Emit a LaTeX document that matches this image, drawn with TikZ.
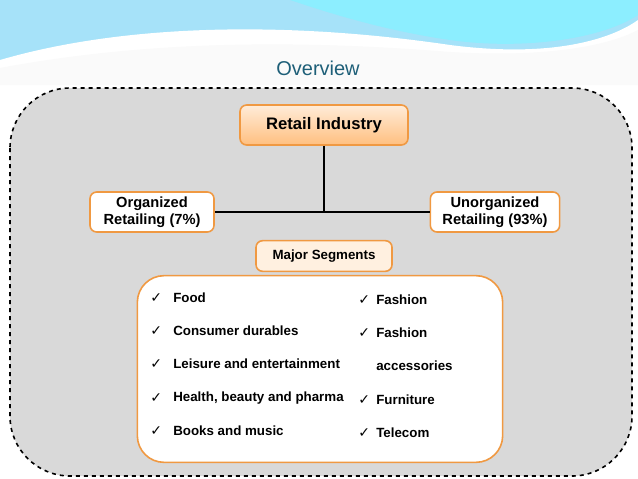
\documentclass[tikz,border=0pt]{standalone}
\usepackage{fontspec}
\setmainfont{Liberation Sans}
\newfontfamily\djv{DejaVu Sans}
\definecolor{teal1}{HTML}{1E5F78}
\begin{document}
\begin{tikzpicture}[x=0.75pt,y=-0.75pt,
  box/.style={draw=orange!70!brown!80, line width=1.2pt, rounded corners=5pt, align=center, font=\bfseries\fontsize{11}{13}\selectfont, inner sep=0pt},
  item/.style={anchor=west, font=\bfseries\fontsize{10}{12}\selectfont, inner sep=0pt},
  ck/.style={anchor=west, font=\djv\fontsize{10.5}{12}\selectfont, inner sep=0pt},
  conn/.style={line width=2.2pt}]
\useasboundingbox (0,0) rectangle (638,478);
\fill[white] (0,0) rectangle (638,478);
% header waves
\fill[cyan!35!white] (0,0) rectangle (638,85);
\fill[blue!15!cyan!45] (290,0) -- (638,0) -- (638,15) .. controls (600,40) and (520,50) .. (450,40) .. controls (380,30) and (320,10) .. (290,0) -- cycle;
\fill[white] (0,85) -- (0,60) .. controls (120,25) and (280,20) .. (450,45) .. controls (550,58) and (610,40) .. (638,20) -- (638,85) -- cycle;
\fill[gray!4] (0,85) -- (0,68) .. controls (150,40) and (300,40) .. (450,52) .. controls (550,58) and (610,45) .. (638,30) -- (638,85) -- cycle;
\node[font=\fontsize{15}{17}\selectfont, text=teal1] (title) at (318,68) {Overview};
% main area
\draw[dashed, line width=1.2pt, fill=gray!30, rounded corners=45pt] (10,88) rectangle (632,476);
\node[box, top color=orange!15, bottom color=orange!50, minimum width=126pt, minimum height=30pt, font=\bfseries\fontsize{12.5}{14}\selectfont] (ri) at (324,125) {Retail Industry};
\node[box, fill=white, minimum width=93pt, minimum height=30pt] (org) at (152,212) {Organized\\Retailing (7\%)};
\node[box, fill=white, minimum width=97pt, minimum height=30pt] (unorg) at (495,212) {Unorganized\\Retailing (93\%)};
\coordinate (j) at (ri.south |- org.east);
\draw[conn] (ri.south) -- (j);
\draw[conn] (org.east) -- (unorg.west);
\node[box, fill=orange!12, minimum width=102pt, minimum height=23pt, font=\bfseries\fontsize{10}{12}\selectfont] (ms) at (324,256) {Major Segments};
\node[draw=orange!70!brown!80, line width=1.2pt, fill=white, rounded corners=20pt, minimum width=274pt, minimum height=140pt] (list) at (320,369) {};
\foreach \t/\y in {Food/298, Consumer durables/331, Leisure and entertainment/364, {Health, beauty and pharma}/398, Books and music/431}{
  \node[ck] at (150,\y) {✓}; \node[item] at (173,\y) {\t};}
\foreach \t/\y in {Fashion/300, Fashion/333, Furniture/400, Telecom/433}{
  \node[ck] at (358,\y) {✓}; \node[item] at (376,\y) {\t};}
\node[item] (acc) at (376,366) {accessories};
\end{tikzpicture}
\end{document}
